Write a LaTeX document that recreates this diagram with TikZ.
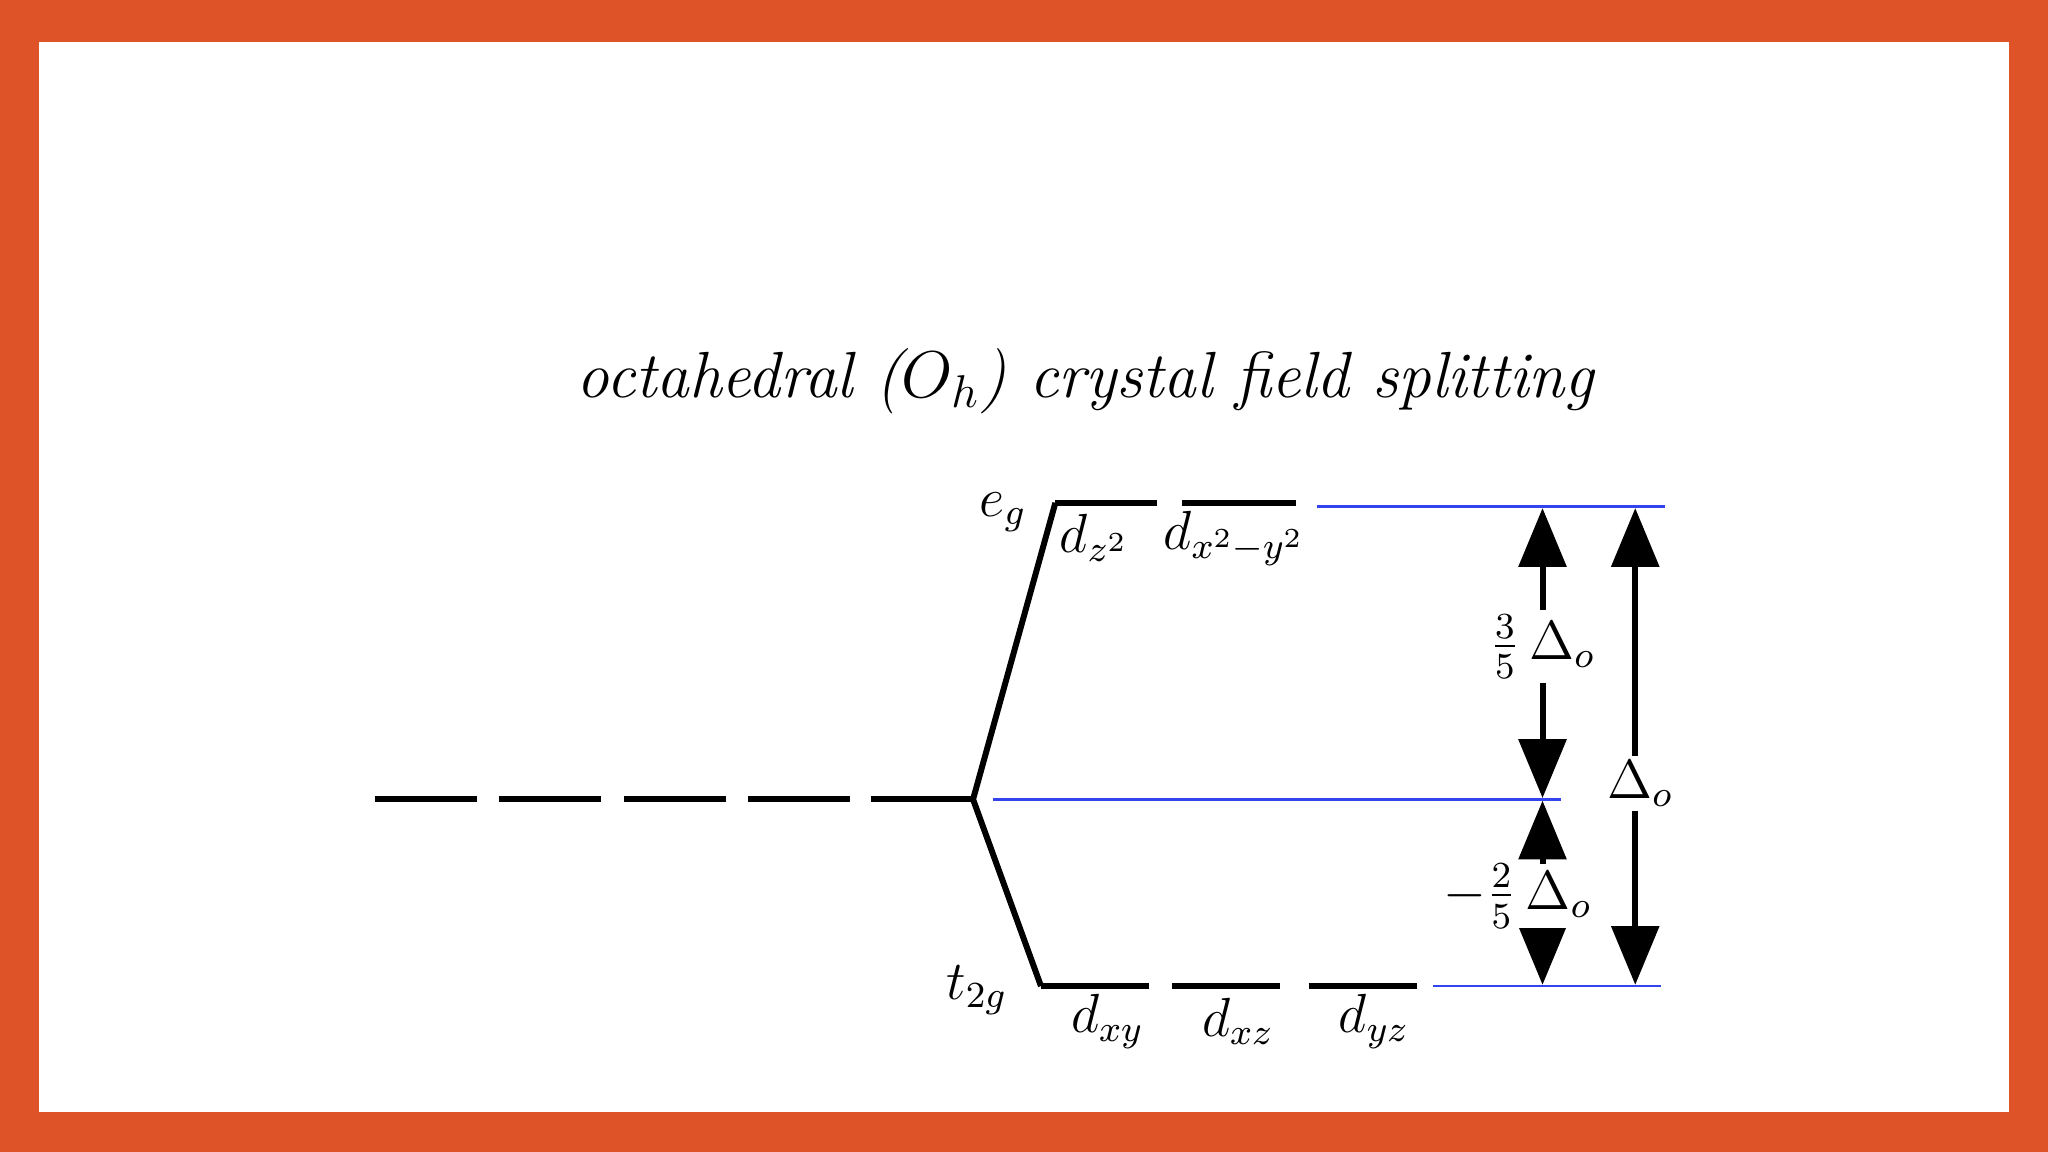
\documentclass[tikz,border=0pt]{standalone}
\usetikzlibrary{arrows.meta}
\definecolor{frame}{HTML}{DE5428}
\definecolor{lvlblue}{HTML}{3344EE}
\begin{document}
\begin{tikzpicture}[x=0.01cm,y=-0.01cm,
  level/.style={line width=1.3pt},
  guide/.style={lvlblue,line width=0.6pt},
  bigarrow/.style={line width=1.3pt,{Triangle[width=0.36cm,length=0.45cm]}-{Triangle[width=0.36cm,length=0.45cm]}},
  lbl/.style={font=\fontsize{12}{14}\selectfont},
  albl/.style={font=\fontsize{12}{14}\selectfont,fill=white,inner sep=1pt}]
\fill[frame] (0,0) rectangle (1568,882);
\fill[white] (30,32) rectangle (1538,851);
\useasboundingbox (0,0) rectangle (1568,882);
\node (title) at (831,292) {\fontsize{14.2}{17}\selectfont\itshape octahedral ($O_h$) crystal field splitting};
% degenerate
\foreach \a/\b [count=\i] in {287/365,382/460,478/556,573/651,667/745}
  \draw[level] (\a,612) -- (\b,612);
\coordinate (c) at (745,612);
\coordinate (eg0) at (808,385);
\coordinate (t0) at (797,755);
\draw[level] (eg0) -- (c) -- (t0);
% eg
\draw[level] (808,385) -- (886,385);
\draw[level] (905,385) -- (992,385);
\node[lbl] (eg) at (768,392) {$e_g$};
\node[lbl] (dz) at (838,412) {$d_{z^2}$};
\node[lbl] (dx) at (945,412) {$d_{x^2-y^2}$};
% t2g
\draw[level] (797,755) -- (880,755);
\draw[level] (897,755) -- (980,755);
\draw[level] (1002,755) -- (1085,755);
\node[lbl] (t2g) at (748,758) {$t_{2g}$};
\node[lbl] (dxy) at (848,782) {$d_{xy}$};
\node[lbl] (dxz) at (948,782) {$d_{xz}$};
\node[lbl] (dyz) at (1052,782) {$d_{yz}$};
% guides
\draw[guide] (1008,388) -- (1275,388);
\draw[guide] (760,612) -- (1195,612);
\draw[guide] (1097,755) -- (1272,755);
% arrows
\coordinate (a1) at (1181,389);
\coordinate (a2) at (1181,611);
\coordinate (a3) at (1181,613);
\coordinate (a4) at (1181,754);
\coordinate (b1) at (1252,389);
\coordinate (b2) at (1252,754);
\draw[bigarrow] (a1) -- (a2);
\draw[bigarrow] (a3) -- (a4);
\draw[bigarrow] (b1) -- (b2);
\node[albl] (l1) at (1181,495) {$\frac{3}{5}\,\Delta_o$};
\node[albl,inner sep=0pt] (l2) at (1162,686) {$-\frac{2}{5}\,\Delta_o$};
\node[albl] (l3) at (1256,600) {$\Delta_o$};
\end{tikzpicture}
\end{document}
